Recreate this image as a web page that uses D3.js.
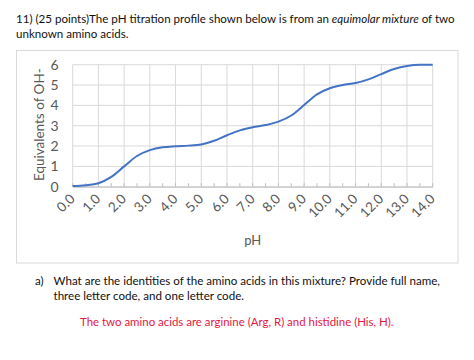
<!DOCTYPE html>
<html><head><meta charset="utf-8">
<script src="https://cdn.jsdelivr.net/npm/d3@7"></script>
<style>body{margin:0;background:#fff}svg{display:block}</style>
</head><body>
<svg id="c" width="474" height="360"></svg>
<script>
const pH = [0,0.5,1,1.5,2,2.5,3,3.5,4,4.5,5,5.5,6,6.5,7,7.5,8,8.5,9,9.5,10,10.5,11,11.5,12,12.5,13,13.5,14];
const equivalents = [0.03,0.07,0.17,0.48,1.0,1.51,1.8,1.94,1.99,2.02,2.08,2.26,2.53,2.77,2.92,3.03,3.2,3.5,4.02,4.54,4.84,5.0,5.1,5.28,5.54,5.79,5.94,6.0,6.0];
const xTicks = [0,1,2,3,4,5,6,7,8,9,10,11,12,13,14];
const yTicks = [0,1,2,3,4,5,6];
const xLabel = "pH";
const yLabel = "Equivalents of OH-";

const svg = d3.select("#c");
const font = "Lato, 'Open Sans', sans-serif";

function fit(sel, target){
  const node = sel.node();
  const fs = parseFloat(sel.attr("font-size"));
  const w = node.getComputedTextLength();
  sel.attr("font-size", (fs*target/w).toFixed(2));
}

// Header text
const t1 = svg.append("text").attr("x",16).attr("y",22.5).attr("font-family",font).attr("font-size",12.5).attr("fill","#111");
t1.append("tspan").text("11) (25 points)The pH titration profile shown below is from an ");
t1.append("tspan").attr("font-style","italic").text("equimolar mixture");
t1.append("tspan").text(" of two");
fit(t1, 439);
svg.append("text").attr("x",16).attr("y",37.5).attr("font-family",font).attr("font-size",t1.attr("font-size")).attr("fill","#111").text("unknown amino acids.");

// chart frame
svg.append("rect").attr("x",16.5).attr("y",50.5).attr("width",441.5).attr("height",212.5).attr("fill","#fff").attr("stroke","#d9d9d9");

const x = d3.scaleLinear().domain([0,14]).range([72.7,432.7]);
const y = d3.scaleLinear().domain([0,6]).range([186.7,64.7]);

const g = svg.append("g");
// grid
g.selectAll(".hg").data(yTicks).join("line")
  .attr("x1",x(0)).attr("x2",x(14)).attr("y1",d=>y(d)).attr("y2",d=>y(d))
  .attr("stroke","#d9d9d9").attr("stroke-width",1);
g.selectAll(".vg").data(xTicks).join("line")
  .attr("x1",d=>x(d)).attr("x2",d=>x(d)).attr("y1",y(6)).attr("y2",y(0))
  .attr("stroke","#d9d9d9").attr("stroke-width",1);

// x axis
const xAxis = d3.axisBottom(x).tickValues(d3.range(0,14.01,0.5)).tickSize(0).tickFormat("");
const xa = g.append("g").attr("transform",`translate(0,${y(0)})`).call(xAxis);
xa.select(".domain").attr("stroke","#bfbfbf");
xa.selectAll(".tick line").remove();
g.selectAll(".mt").data(d3.range(0,14.01,0.5)).join("line")
  .attr("x1",d=>x(d)).attr("x2",d=>x(d)).attr("y1",y(0)-3.5).attr("y2",y(0))
  .attr("stroke","#bfbfbf");

g.selectAll(".xl").data(xTicks).join("text")
  .attr("transform",d=>`translate(${x(d)+3},${y(0)+13}) rotate(-45)`)
  .attr("text-anchor","end").attr("font-family",font).attr("font-size",13.5).attr("fill","#595959")
  .text(d=>d3.format(".1f")(d));

// y axis labels
const ya = g.append("g").attr("transform",`translate(${x(0)},0)`)
  .call(d3.axisLeft(y).tickValues(yTicks).tickFormat(d3.format("d")).tickSize(0).tickPadding(14));
ya.select(".domain").remove();
ya.selectAll("text").attr("font-family",font).attr("font-size",14).attr("fill","#595959");

// axis titles
g.append("text").attr("x",(x(0)+x(14))/2).attr("y",245).attr("text-anchor","middle")
  .attr("font-family",font).attr("font-size",13).attr("fill","#595959").text(xLabel);
g.append("text").attr("transform",`translate(44,${(y(0)+y(6))/2 - 1}) rotate(-90)`).attr("text-anchor","middle")
  .attr("font-family",font).attr("font-size",13.5).attr("fill","#595959").text(yLabel);

// line
const line = d3.line().x((d,i)=>x(pH[i])).y(d=>y(d)).curve(d3.curveMonotoneX);
g.append("path").datum(equivalents).attr("d",line).attr("fill","none").attr("stroke","#4472c4").attr("stroke-width",2);

// question text
svg.append("text").attr("x",35).attr("y",285).attr("font-family",font).attr("font-size",t1.attr("font-size")).attr("fill","#111").text("a)");
const q1 = svg.append("text").attr("x",53.5).attr("y",285).attr("font-family",font).attr("font-size",12.5).attr("fill","#111")
  .text("What are the identities of the amino acids in this mixture?  Provide full name,");
fit(q1, 387);
svg.append("text").attr("x",53.5).attr("y",300).attr("font-family",font).attr("font-size",q1.attr("font-size")).attr("fill","#111")
  .text("three letter code, and one letter code.");
const a1 = svg.append("text").attr("x",80).attr("y",325.5).attr("font-family",font).attr("font-size",12.5).attr("fill","#e5163f")
  .text("The two amino acids are arginine (Arg, R) and histidine (His, H).");
fit(a1, 314);
</script>
</body></html>
